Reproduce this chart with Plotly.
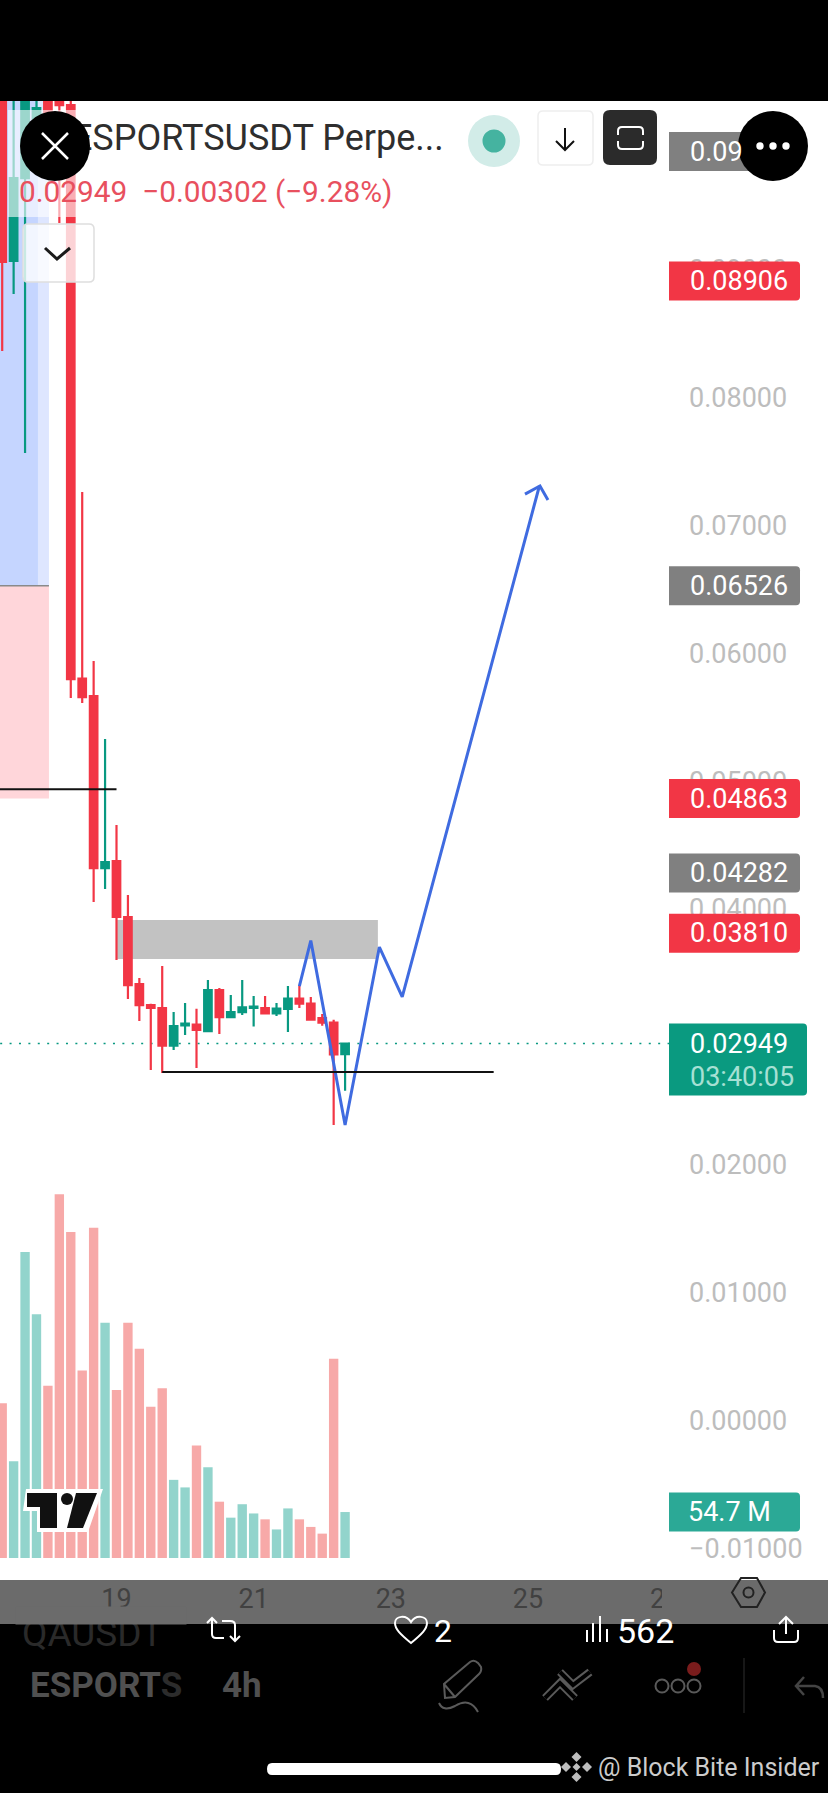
import plotly.graph_objects as go

W, H = 828, 1793

# ---------- data ----------
candle_index = list(range(31))
opens  = [.1040,.09063,.09711,.10125,.1040,.1040,.10281,.05801,.05664,.04320,.04375,.03938,.03414,.03250,.03227,.02933,.03091,.03097,.03047,.03367,.03156,.03195,.03227,.03227,.03184,.03219,.03300,.03261,.03148,.03112,.02867]
highs  = [.1050,.10320,.1050,.1050,.1050,.1050,.10359,.07258,.05938,.05328,.04656,.04109,.03461,.03261,.03555,.03195,.03266,.03222,.03445,.03383,.03328,.03445,.03320,.03320,.03266,.03398,.03406,.03313,.03180,.03136,.02949]
lows   = [.08359,.08805,.07563,.10008,.10086,.09359,.05648,.05609,.04055,.04156,.03602,.03297,.03125,.02742,.02719,.02898,.03016,.02758,.03039,.03023,.03156,.03172,.03082,.03184,.03164,.03039,.03227,.03136,.03088,.02313,.02580]
closes = [.09055,.09711,.1040,.10258,.10227,.10281,.05797,.05656,.04320,.04367,.03938,.03406,.03250,.03227,.02933,.03086,.03105,.03055,.03367,.03156,.03195,.03231,.03238,.03184,.03222,.03300,.03261,.03136,.03112,.02864,.02949]
volumes_m = [184,115,364,290,205,433,388,223,393,280,200,280,249,180,202,93,84,134,108,67,48,64,53,46,34,59,46,37,29,237,54.7]

price_ticks = [-0.01,0.0,0.01,0.02,0.03,0.04,0.05,0.06,0.07,0.08,0.09]
price_tick_text = ["−0.01000","0.00000","0.01000","0.02000","0.03000","0.04000","0.05000","0.06000","0.07000","0.08000","0.09000"]
date_ticks = [10,22,34,46,58]
date_tick_text = ["19","21","23","25","27"]

plan_x = [26,27,30,33,35,47]
plan_y = [.03398,.03754,.02313,.03703,.03313,.07305]
arrow_x = [45.74,47.05,47.75]
arrow_y = [.07242,.07305,.07195]

RED, GREEN = "#F23645", "#089981"
VOL_RED, VOL_GREEN = "#F7A9A8", "#92D4CC"
bar_colors = [VOL_GREEN if c >= o else VOL_RED for o, c in zip(opens, closes)]

fig = go.Figure()
fig.add_trace(go.Bar(x=candle_index, y=volumes_m, yaxis="y2", width=0.82,
                     marker=dict(color=bar_colors, line_width=0), hoverinfo="skip"))
fig.add_trace(go.Candlestick(x=candle_index, open=opens, high=highs, low=lows, close=closes,
    increasing=dict(line=dict(color=GREEN, width=2.2), fillcolor=GREEN),
    decreasing=dict(line=dict(color=RED, width=2.2), fillcolor=RED),
    whiskerwidth=0, hoverinfo="skip"))
fig.add_trace(go.Scatter(x=plan_x, y=plan_y, mode="lines", line=dict(color="#3F6BE0", width=3), hoverinfo="skip"))
fig.add_trace(go.Scatter(x=arrow_x, y=arrow_y, mode="lines", line=dict(color="#3F6BE0", width=3), hoverinfo="skip"))
fig.add_trace(go.Scatter(x=[6.1], y=[0.1], mode="text", text=["ESPORTSUSDT Perpe..."],
                         textposition="middle right",
                         textfont=dict(family="Roboto", size=36, color="#2e2e2e"), hoverinfo="skip"))

# ---------- helpers ----------
def fx(x): return x / W
def fy(y): return 1 - y / H

def pp(s):
    res, pend = [], None
    for t in s.replace(",", " ").split():
        if t.isalpha():
            res.append(t)
        elif pend is None:
            pend = fx(float(t))
        else:
            res.append(f"{pend:.6f},{fy(float(t)):.6f}")
            pend = None
    return " ".join(res)

shapes, anns = [], []
def rect(x0, y0, x1, y1, fill, layer="above", line=None):
    shapes.append(dict(type="rect", xref="paper", yref="paper", x0=fx(x0), x1=fx(x1), y0=fy(y1), y1=fy(y0),
                       fillcolor=fill, line=dict(width=0) if line is None else line, layer=layer))
def circle(cx, cy, r, fill="rgba(0,0,0,0)", line=None):
    shapes.append(dict(type="circle", xref="paper", yref="paper", x0=fx(cx-r), x1=fx(cx+r), y0=fy(cy+r), y1=fy(cy-r),
                       fillcolor=fill, line=dict(width=0) if line is None else line, layer="above"))
def stroke(s, color, width=2, fill=None):
    shapes.append(dict(type="path", xref="paper", yref="paper", path=pp(s),
                       line=dict(color=color, width=width), fillcolor=fill or "rgba(0,0,0,0)", layer="above"))
def solid(s, fill):
    shapes.append(dict(type="path", xref="paper", yref="paper", path=pp(s),
                       line=dict(width=0), fillcolor=fill, layer="above"))
def text(x, y, s, size, color, anchor="left", family="Roboto"):
    anns.append(dict(xref="paper", yref="paper", x=fx(x), y=fy(y), text=s, showarrow=False, xanchor=anchor, yanchor="middle",
                     font=dict(family=family, size=size, color=color), borderpad=0, borderwidth=0))
def pill(value, s, fill, x1=800, up=19.5, down=19.5, yref="y", size=27, tx=688):
    path = (f"M 669,{-down} L {x1-4},{-down} Q {x1},{-down} {x1},{-down+4} L {x1},{up-4} Q {x1},{up} {x1-4},{up} L 669,{up} Z")
    shapes.append(dict(type="path", xref="paper", yref=yref, xsizemode="pixel", xanchor=0,
                       ysizemode="pixel", yanchor=value, path=path, fillcolor=fill, line=dict(width=0), layer="above"))
    anns.append(dict(xref="paper", yref=yref, x=fx(tx), y=value, text=s, showarrow=False, xanchor="left", yanchor="middle",
                     font=dict(family="Roboto", size=size, color="white")))

# ---------- chart zones (axis units) ----------
def zone(x0, x1, y0, y1, fill, layer="below"):
    shapes.append(dict(type="rect", xref="x", yref="y", x0=x0, x1=x1, y0=y0, y1=y1, fillcolor=fill, line=dict(width=0), layer=layer))
def hline(x0, x1, y, color, width=2, dash="solid", layer="above"):
    shapes.append(dict(type="line", xref="x", yref="y", x0=x0, x1=x1, y0=y, y1=y, line=dict(color=color, width=width, dash=dash), layer=layer))

zone(-1, 3.13, .06526, .104, "#C5D5FF")
zone(3.13, 4.09, .06526, .104, "#DEE6FF")
zone(-1, 4.09, .04863, .06526, "#FFD6DA")
hline(-1, 4.09, .06526, "#8a8a8a", 1.5, layer="below")
zone(10.03, 32.87, .03610, .03914, "#C2C2C2")
hline(-1, 10, .04935, "#111111", 2)
hline(14, 43, .02727, "#111111", 2)
hline(-1, 60, .02949, GREEN, 1.6, "2px,7.4px", layer="below")

# translucent header veil over the first candles
rect(8, 110, 76, 217, "rgba(255,255,255,0.6)")

# top & bottom chrome
rect(0, 0, W, 101, "#000000")
rect(0, 1580, W, 1624, "rgba(0,0,0,0.58)")
rect(662, 1580, W, 1624, "#6B6B6B")
rect(0, 1624, W, H, "#000000")

# dropdown
shapes.append(dict(type="path", xref="paper", yref="paper",
    path=pp("M 28,224 L 89,224 Q 94,224 94,229 L 94,277 Q 94,282 89,282 L 28,282 Q 23,282 23,277 L 23,229 Q 23,224 28,224 Z"),
    fillcolor="rgba(255,255,255,0.78)", line=dict(color="#DEDEDE", width=1.5), layer="above"))
stroke("M 45,248 L 57,259 L 70,248", "#1b1b1b", 3)

# toolbar
circle(494, 141, 26, "#D2ECE8")
circle(494, 141, 11.5, "#45B3A0")
stroke("M 543,111 L 588,111 Q 593,111 593,116 L 593,160 Q 593,165 588,165 L 543,165 Q 538,165 538,160 L 538,116 Q 538,111 543,111 Z", "#EEEEEE", 1.5, "#FFFFFF")
stroke("M 565,128 L 565,150 M 556,141 L 565,150 L 574,141", "#111111", 2)
solid("M 610,110 L 650,110 Q 657,110 657,117 L 657,158 Q 657,165 650,165 L 610,165 Q 603,165 603,158 L 603,117 Q 603,110 610,110 Z", "#2B2B2B")
stroke("M 618,135 L 618,131 Q 618,127 622,127 L 639,127 Q 643,127 643,131 L 643,135", "#FFFFFF", 2)
stroke("M 618,141 L 618,145 Q 618,149 622,149 L 639,149 Q 643,149 643,145 L 643,141", "#FFFFFF", 2)

# value row
text(19, 191, "0.02949\u00a0\u00a0−0.00302\u00a0(−9.28%)", 29.8, "#E8505E")

# price pills
pill(.09918, "0.09", "#808080")
pill(.08906, "0.08906", RED)
pill(.06526, "0.06526", "#808080")
pill(.04863, "0.04863", RED)
pill(.04282, "0.04282", "#808080")
pill(.03810, "0.03810", RED)
pill(.02949, "0.02949", "#0A9A80", x1=807, up=20, down=52)
anns.append(dict(xref="paper", yref="y", x=fx(688), y=.02949, yshift=-33, text="03:40:05", showarrow=False, xanchor="left", yanchor="middle",
                 font=dict(family="Roboto", size=27, color="#A6E0D4")))
pill(54.7, "54.7 M", "#2BA996", yref="y2", tx=686)

# round floating buttons
circle(55, 146, 35, "#000000")
stroke("M 42,133 L 68,159 M 68,133 L 42,159", "#FFFFFF", 2.5)
circle(773, 146, 35, "#000000")
for cx in (760, 773, 786):
    circle(cx, 146, 3.7, "#FFFFFF")

# TradingView mark
solid("M 26,1489 L 103,1489 L 88,1532 L 37,1532 L 37,1511 L 23,1511 Z", "#FFFFFF")
solid("M 27,1493 L 57,1493 L 57,1528 L 40,1528 L 40,1507 L 27,1507 Z", "#111111")
circle(67, 1499, 6, "#111111")
solid("M 76,1493 L 97,1493 L 83,1528 L 67,1528 Z", "#111111")

# hexagon
stroke("M 732,1592.5 L 741,1578 L 757,1578 L 765,1592.5 L 757,1607 L 741,1607 Z", "#222222", 2)
circle(748.5, 1592.5, 5, line=dict(color="#222222", width=2))

# social row
W_ = "#FFFFFF"
stroke("M 207,1623 L 212,1618 L 217,1623 M 212,1618 L 212,1634 Q 212,1638 216,1638 L 224,1638", W_, 2)
stroke("M 222,1621 L 230,1621 Q 235,1621 235,1625 L 235,1640 M 230,1636 L 235,1641 L 240,1636", W_, 2)
stroke("M 411,1643 C 400,1634 395,1629 395,1623 C 395,1616 406,1614 411,1622 C 416,1614 427,1616 427,1623 C 427,1629 422,1634 411,1643 Z", W_, 2)
text(434, 1631, "2", 32, W_)
for bx, by in ((587, 1630), (593, 1623), (600, 1616), (607, 1629)):
    stroke(f"M {bx},{by} L {bx},1642", W_, 2)
text(617, 1631, "562", 34, W_)
stroke("M 786,1634 L 786,1617 M 779,1624 L 786,1617 L 793,1624", W_, 2)
stroke("M 774,1630 L 774,1638 Q 774,1642 778,1642 L 794,1642 Q 798,1642 798,1638 L 798,1630", W_, 2)

# faint app toolbar behind
text(22, 1633, "QAUSDT", 37, "#2A2A2A")
anns.append(dict(xref="paper", yref="paper", x=fx(15), y=fy(1606), xanchor="left", yanchor="top", text=" ", showarrow=False,
                 width=170, height=17, bgcolor="#6B6B6B", borderpad=0))
text(30, 1685, "<b>ESPORT<span style='color:#2c2c2c'>S</span></b>", 35, "#505050")
text(222, 1685, "<b>4h</b>", 35, "#505050")
G = "#5A5A5A"
stroke("M 445,1698 L 444,1684 L 470,1662 Q 474,1659 478,1663 L 481,1667 Q 482,1671 479,1674 L 455,1697 Z M 444,1684 L 455,1697", G, 2)
stroke("M 478,1712 Q 470,1697 455,1706 Q 443,1712 439,1703", G, 2)
stroke("M 545,1698 L 560,1683 L 575,1698 M 560,1672 L 573,1685 L 590,1672", G, 8)
stroke("M 545,1698 L 560,1683 L 575,1698 M 560,1672 L 573,1685 L 590,1672", "#000000", 4)
for cx in (662, 678, 694):
    circle(cx, 1686, 6.5, line=dict(color=G, width=2))
circle(694, 1669, 7, "#7A1C1C")
stroke("M 744,1658 L 744,1713", "#1F1F1F", 1.5)
stroke("M 804,1677 L 796,1686 L 804,1695 M 796,1686 L 815,1686 Q 823,1687 823,1698", "#444444", 2.5)

# home bar and watermark
solid("M 272,1763 L 556,1763 Q 561,1763 561,1769 Q 561,1775 556,1775 L 272,1775 Q 267,1775 267,1769 Q 267,1763 272,1763 Z", W_)
for dx, dy in ((576.5, 1757), (576.5, 1777), (566, 1767), (587, 1767)):
    solid(f"M {dx},{dy-5} L {dx+5},{dy} L {dx},{dy+5} L {dx-5},{dy} Z", "#BDBDBD")
solid("M 576.5,1763 L 580.5,1767 L 576.5,1771 L 572.5,1767 Z", "#BDBDBD")
text(820, 1767, "@ Block Bite Insider", 25, "#CCCCCC", anchor="right")

fig.update_layout(
    width=W, height=H, margin=dict(l=0, r=0, t=0, b=0, pad=0, autoexpand=False), autosize=False,
    paper_bgcolor="#FFFFFF", plot_bgcolor="rgba(0,0,0,0)", showlegend=False, hovermode=False,
    boxgap=0.34, boxgroupgap=0, dragmode=False,
    shapes=shapes, annotations=anns,
    xaxis=dict(domain=[0, 669/828], range=[-0.1925, 58.34], rangeslider=dict(visible=False),
               anchor="free", position=1-1580/1793, tickmode="array", tickvals=date_ticks, ticktext=date_tick_text,
               tickfont=dict(family="Roboto", size=27, color="#9C9C9C"), showgrid=False, zeroline=False, showline=False, ticks=""),
    yaxis=dict(domain=[0, 1], range=[-0.02906, 0.11102], side="right", anchor="x", tickmode="array",
               tickvals=price_ticks, ticktext=price_tick_text, ticklabelstandoff=19,
               tickfont=dict(family="Roboto", size=27, color="#BDBDBD"), showgrid=False, zeroline=False, showline=False, ticks=""),
    yaxis2=dict(domain=[0, 1], range=[-279.65, 1854], overlaying="y", side="right", visible=False),
)

fig.write_html("out.html", config=dict(displayModeBar=False, staticPlot=False),
               post_script="document.body.style.margin='0';document.body.style.background='#fff';")
